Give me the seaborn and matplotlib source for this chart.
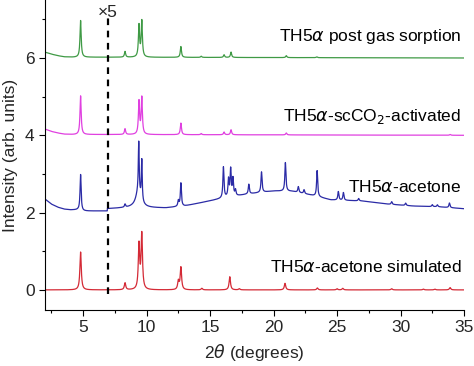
import numpy as np
import pandas as pd
import matplotlib
matplotlib.use("Agg")
import matplotlib.pyplot as plt
import seaborn as sns
from matplotlib.ticker import MultipleLocator

# Picos (posição 2theta, altura acima da linha de base, já com o x5)
sim_pos = [4.8, 8.3, 9.4, 9.62, 12.5, 12.7, 14.35, 16.55, 17.3, 20.9, 23.45, 25.0, 25.45, 29.3, 31.8, 32.7, 33.9]
sim_h = [0.98, 0.18, 1.15, 1.42, 0.22, 0.58, 0.04, 0.34, 0.03, 0.17, 0.05, 0.03, 0.04, 0.03, 0.02, 0.02, 0.06]
sim_bx = [2.0, 35.0]
sim_by = [0.0, 0.0]

ace_pos = [4.8, 8.3, 9.35, 9.38, 9.62, 12.5, 12.7, 16.05, 16.45, 16.62, 16.8, 17.0, 18.05, 19.05,
           20.93, 21.95, 22.4, 23.43, 25.1, 25.5, 26.7, 29.3, 30.4, 32.5, 32.9, 33.85]
ace_h = [0.93, 0.08, 0.4, 1.3, 1.05, 0.15, 0.6, 0.8, 0.45, 0.7, 0.45, 0.15, 0.25, 0.53,
         0.74, 0.15, 0.1, 0.67, 0.22, 0.2, 0.06, 0.07, 0.06, 0.05, 0.05, 0.12]
ace_w = [0.05, 0.05, 0.25, 0.04, 0.04, 0.05, 0.05, 0.05, 0.05, 0.05, 0.05, 0.05, 0.05, 0.05,
         0.05, 0.05, 0.05, 0.05, 0.05, 0.05, 0.05, 0.05, 0.05, 0.05, 0.05, 0.05]
ace_bx = [2.0, 2.5, 3.0, 3.5, 4.0, 4.6, 5.0, 6.9, 6.9, 8.8, 11.5, 13.0, 16.0, 18.0, 20.0, 21.5,
          23.0, 24.5, 27.0, 29.0, 31.0, 33.0, 35.0]
ace_by = [2.35, 2.22, 2.14, 2.09, 2.07, 2.07, 2.04, 2.04, 2.1, 2.13, 2.12, 2.17, 2.37, 2.48, 2.56, 2.55,
          2.45, 2.33, 2.3, 2.22, 2.17, 2.15, 2.1]

sc_pos = [4.8, 8.3, 9.4, 9.62, 12.7, 14.3, 16.1, 16.65, 21.0, 33.9]
sc_h = [1.0, 0.15, 0.85, 0.95, 0.3, 0.03, 0.07, 0.13, 0.05, 0.02]
sc_bx = [2.0, 2.5, 3.0, 3.5, 4.2, 6.9, 35.0]
sc_by = [4.16, 4.1, 4.06, 4.03, 4.02, 4.02, 4.0]

gas_pos = [4.8, 8.3, 9.4, 9.62, 12.7, 14.3, 16.1, 16.65, 21.0, 23.4]
gas_h = [0.95, 0.15, 0.82, 0.93, 0.28, 0.03, 0.07, 0.14, 0.05, 0.02]
gas_bx = [2.0, 2.5, 3.0, 3.5, 4.2, 6.9, 35.0]
gas_by = [6.15, 6.1, 6.06, 6.03, 6.02, 6.02, 6.0]

labels = [r"TH5$\alpha$-acetone simulated", r"TH5$\alpha$-acetone",
          r"TH5$\alpha$-scCO$_2$-activated", r"TH5$\alpha$ post gas sorption"]
label_y = [0.6, 2.67, 4.49, 6.56]
colors = ["#d42a36", "#2b2ba6", "#e040e0", "#3f9a45"]

tt = np.arange(2.0, 35.0001, 0.01)


def pattern(pos, h, bx, by, w=None):
    y = np.interp(tt, bx, by)
    if w is None:
        w = [0.055] * len(pos)
    for p, a, g in zip(pos, h, w):
        y = y + a / (1 + ((tt - p) / g) ** 2)
    return y


curves = [
    pattern(sim_pos, sim_h, sim_bx, sim_by, [0.065] * len(sim_pos)),
    pattern(ace_pos, ace_h, ace_bx, ace_by, ace_w),
    pattern(sc_pos, sc_h, sc_bx, sc_by),
    pattern(gas_pos, gas_h, gas_bx, gas_by),
]

df = pd.concat([pd.DataFrame({'angle': tt, 'intensity': c, 'sample': lab})
                for c, lab in zip(curves, labels)])

sns.set_theme(style="ticks")
plt.rcParams['font.family'] = ['Liberation Sans', 'DejaVu Sans']
fs = 12.5

fig = plt.figure(figsize=(4.74, 3.66), dpi=100)
ax = fig.add_axes([0.095, 0.153, 0.884, 0.847])

sns.lineplot(data=df, x='angle', y='intensity', hue='sample', palette=dict(zip(labels, colors)),
             estimator=None, sort=False, legend=False, linewidth=0.9, ax=ax)

for lab, yy, c in zip(labels, label_y, colors):
    ax.text(34.8, yy, lab, ha='right', va='center', fontsize=fs, color='black')

ax.plot([6.95, 6.95], [-0.1, 7.05], color='black', linestyle=(0, (3, 2.5)), linewidth=1.6)
ax.text(6.95, 7.17, "×5", ha='center', va='center', fontsize=fs)

ax.set_xlim(2, 35)
ax.set_ylim(-0.52, 7.5)
ax.xaxis.set_major_locator(MultipleLocator(5))
ax.xaxis.set_minor_locator(MultipleLocator(2.5))
ax.yaxis.set_major_locator(MultipleLocator(2))
ax.yaxis.set_minor_locator(MultipleLocator(1))
ax.tick_params(which='both', direction='out', labelsize=fs, width=0.8, color='black')
ax.tick_params(which='major', length=4)
ax.tick_params(which='minor', length=2.5)
ax.set_xlabel(r"2$\theta$ (degrees)", fontsize=fs, labelpad=5)
ax.set_ylabel("Intensity (arb. units)", fontsize=fs, labelpad=5)
sns.despine(ax=ax)
for s in ['left', 'bottom']:
    ax.spines[s].set_color('black')
    ax.spines[s].set_linewidth(0.8)

fig.savefig('out.png', dpi=100)
